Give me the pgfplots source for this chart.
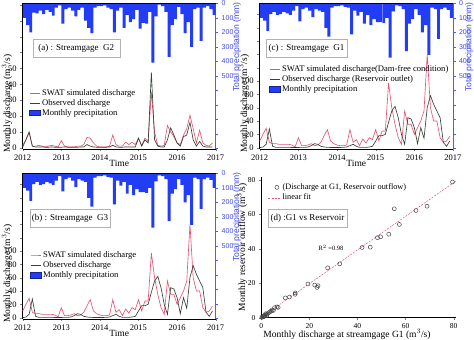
\documentclass[border=0pt]{standalone}
\usepackage{pgfplots}
\pgfplotsset{compat=1.18}
\usepackage{pgfplotstable}
\usepackage{fontspec}
\setmainfont{Liberation Serif}
\setsansfont{Liberation Sans}

\definecolor{swat}{RGB}{230,85,115}
\definecolor{obs}{RGB}{55,65,55}
\definecolor{barblue}{RGB}{35,60,245}
\definecolor{rblue}{RGB}{80,90,255}
\definecolor{lblue}{RGB}{60,70,240}

\pgfplotstableread{
i pa sa oa pc sc oc
0 100 1.5 0.5 100 10 0
1 150 5 5 120 20 1
2 200 9.5 10 190 29 5
3 65 1 1 75 8 28
4 70 1 0.5 60 6 2
5 50 1.5 0.5 80 6 0.5
6 75 1 0.5 75 5 0.5
7 45 0.5 0.3 60 5 0.5
8 60 1 0.3 70 5 0.5
9 85 1.5 0.5 80 5 0.5
10 30 1 0.3 50 4 0.3
11 15 0.5 0.3 20 1 0.3
12 140 4.5 0.3 125 15 0.3
13 40 1 0.5 40 3 0.5
14 30 0.5 0.3 30 3 0.5
15 50 0.5 0.3 50 4 1
16 90 0.5 0.3 95 6 3
17 45 1 0.3 40 3 6
18 30 1 0.5 50 4 5
19 120 2 0.5 60 8 2
20 170 6.5 2 170 18 1
21 205 6 1 230 27 0.5
22 30 3 0.5 30 10 0.3
23 20 1 0.3 20 6 0.3
24 20 0.5 0.3 20 4 0.3
25 15 0.5 0.3 15 3 0.3
26 30 0.5 0.3 25 3 0.5
27 40 1 0.5 30 4 1
28 200 8 1.5 215 27 3
29 50 2 0.5 50 8 5
30 30 1 0.3 85 12 2
31 170 1 0.3 60 3 0.5
32 80 3.5 0.5 140 13 0.5
33 130 2 0.5 80 7 0.5
34 110 3.5 0.5 150 15 1
35 45 2 0.5 110 12 2
36 175 6 6 130 27 10
37 135 1.5 1 130 10 18
38 140 6 5 135 25 18
39 60 4 3 100 25 20
40 410 35 47.5 375 97 38
41 90 10 5 55 60 55
42 10 1.5 1 15 35 62
43 20 1 0.5 20 15 45
44 60 1.5 0.5 40 5 20
45 370 14 5 330 55 5
46 150 10 12.5 140 35 45
47 110 7 8 110 35 43
48 25 3 3 40 20 30
49 75 2 1 80 30 6
50 205 8 7 200 40 30
51 130 12 8 150 55 14
52 300 20.5 16 355 140 60
53 40 12 5 30 60 78
54 30 3 1 40 40 65
55 260 11 4 245 40 55
56 30 3 1 40 15 45
57 20 1.5 0.5 30 8 8
58 40 1 0.5 45 10 2
59 80 3 0.5 100 17 10
}\ts

\pgfplotstableread{
x y
0.2 0.2
0.5 0.4
0.8 0.6
1.0 1.0
1.3 0.8
1.5 1.4
1.8 2.3
2.0 1.7
2.3 1.2
2.5 2.2
3.0 2.8
3.5 3.3
4.0 3.8
4.5 4.5
5.0 4.2
5.5 5.8
6.5 6.3
7.0 6.0
10.0 11.5
11.7 12.0
14.1 14.4
14.1 13.6
19.4 19.6
22.2 19.0
23.2 17.6
23.6 18.6
27.6 29.0
32.6 31.3
41.9 40.8
45.3 41.0
48.3 46.5
49.6 47.0
53.0 48.5
55.3 63.3
57.4 54.2
64.3 62.3
68.9 64.8
79.5 78.9
}\sc

\tikzset{boxlab/.style={draw=gray!60, fill=white, font=\fontsize{9}{10}\selectfont, minimum height=18pt, inner sep=2pt},
  rlab/.style={rotate=90, text=lblue, font=\sffamily\fontsize{8.6}{9}\selectfont, anchor=center}}

\pgfplotsset{
  shortline/.style={legend image code/.code={\draw[##1] (0pt,0pt) -- (12pt,0pt);}},
  base/.style={scale only axis, anchor=south west, height=145.7pt,
    xmin=0, xmax=60, tick align=outside, major tick length=2.5pt,
    tick label style={font=\fontsize{8.5}{9}\selectfont},
    label style={font=\fontsize{9.5}{10}\selectfont}},
  precip/.style={base, ymin=0, ymax=1005, y dir=reverse,
    axis y line*=right, axis x line=none,
    y axis line style={rblue, line width=0.6pt},
    ytick={0,100,...,1000}, yticklabels={0,100,200,300,400,500,,,,,},
    ytick style={rblue}, yticklabel style={text=lblue, font=\sffamily\fontsize{7}{8}\selectfont},
    ybar, bar width=0.92},
  disch/.style={base, axis x line*=box, axis y line*=left, xtick pos=bottom, clip=false,
    axis line style={line width=0.5pt},
    xtick={0,12,...,60}, xticklabels={2012,2013,2014,2015,2016,2017},
    xlabel={Time}, xlabel style={at={(axis description cs:0.5,-0.096)}, anchor=center},
    ylabel={Monthly discharge (m$^3$/s)},
    ylabel style={at={(axis description cs:-0.081,0.31)}, anchor=center},
    legend style={draw=none, fill=none, font=\fontsize{8.6}{9}\selectfont, legend cell align=left, row sep=-1.5pt, inner sep=0pt},
    legend image post style={xscale=0.6}}
}

\begin{document}
\begin{tikzpicture}[x=1pt,y=1pt]
\useasboundingbox (0,0) rectangle (474,340);

% ---------- Panel (a) ----------
\begin{axis}[precip, at={(22.7pt,191pt)}, width=193pt]
\addplot[fill=barblue, draw=none] table[x expr=\thisrow{i}+0.5, y=pa]{\ts};
\end{axis}
\begin{axis}[disch, at={(22.7pt,191pt)}, width=193pt, ymin=-0.8, ymax=91,
  ytick={0,10,...,90}, yticklabels={0,10,20,30,40,50,,,,},
  legend style={at={(0.033,0.426)}, anchor=north west}]
\addplot[swat, line width=0.65pt] table[x=i, y=sa]{\ts};
\addlegendentry{SWAT simulated discharge}
\addplot[obs, line width=0.65pt] table[x=i, y=oa]{\ts};
\addlegendentry{Observed discharge}
\addlegendimage{area legend, fill=barblue, draw=barblue!60!black}
\addlegendentry{Monthly precipitation}
\node[boxlab, minimum width=87pt] at (rel axis cs:0.278,0.693) {(a) : Streamgage\ \ G2};
\node[rlab] at (rel axis cs:1.11,0.70) {Total precipitation (mm)};
\end{axis}

% ---------- Panel (c) ----------
\begin{axis}[precip, at={(259.7pt,191pt)}, width=193.3pt]
\addplot[fill=barblue, draw=none] table[x expr=\thisrow{i}+0.5, y=pc]{\ts};
\end{axis}
\begin{axis}[disch, at={(259.7pt,191pt)}, width=193.3pt, ymin=-2, ymax=216.5,
  ytick={0,20,...,200}, yticklabels={0,20,40,60,80,100,,,,,},
  legend style={at={(0.048,0.59)}, anchor=north west}]
\addplot[swat, line width=0.65pt] table[x=i, y=sc]{\ts};
\addlegendentry{SWAT simulated discharge(Dam-free condition)}
\addplot[obs, line width=0.65pt] table[x=i, y=oc]{\ts};
\addlegendentry{Observed discharge (Reservoir outlet)}
\addlegendimage{area legend, fill=barblue, draw=barblue!60!black}
\addlegendentry{Monthly precipitation}
\node[boxlab, minimum width=81pt] at (rel axis cs:0.242,0.693) {(c) : Streamgage\ \ G1};
\node[rlab] at (rel axis cs:1.083,0.70) {Total precipitation (mm)};
\end{axis}

% ---------- Panel (b) ----------
\begin{axis}[precip, at={(22.7pt,21pt)}, width=193pt]
\addplot[fill=barblue, draw=none] table[x expr=\thisrow{i}+0.5, y=pc]{\ts};
\end{axis}
\begin{axis}[disch, at={(22.7pt,21pt)}, width=193pt, ymin=-2, ymax=216.5,
  ytick={0,20,...,200}, yticklabels={0,20,40,60,80,100,,,,,},
  legend style={at={(0.038,0.48)}, anchor=north west}]
\addplot[swat, line width=0.65pt] table[x=i, y=sc]{\ts};
\addlegendentry{SWAT simulated discharge}
\addplot[obs, line width=0.65pt] table[x=i, y=oc]{\ts};
\addlegendentry{Observed discharge}
\addlegendimage{area legend, fill=barblue, draw=barblue!60!black}
\addlegendentry{Monthly precipitation}
\node[boxlab, minimum width=80pt] at (rel axis cs:0.245,0.693) {(b) : Streamgage\ \ G3};
\node[rlab] at (rel axis cs:1.11,0.70) {Total precipitation (mm)};
\end{axis}

% ---------- Panel (d) ----------
\begin{axis}[scale only axis, anchor=south west, at={(261.3pt,22.3pt)},
  width=194.8pt, height=141.1pt, xmin=0, xmax=81, ymin=0, ymax=82,
  axis x line*=bottom, axis y line*=left, tick align=outside, major tick length=2.5pt,
  xtick={0,20,...,80}, ytick={0,20,...,80},
  /pgf/number format/assume math mode=true,
  tick label style={font=\fontsize{7.5}{8}\selectfont},
  xlabel={Monthly discharge at streamgage G1 (m$^3$/s)},
  ylabel={Monthly reservoir outflow (m$^3$/s)},
  label style={font=\fontsize{9.5}{10}\selectfont},
  xlabel style={at={(axis description cs:0.44,-0.115)}, anchor=center},
  ylabel style={at={(axis description cs:-0.099,0.5)}, anchor=center},
  legend style={draw=none, fill=none, font=\fontsize{8.3}{9}\selectfont, legend cell align=left, row sep=-1pt, inner sep=0pt, at={(0.034,0.965)}, anchor=north west}]
\addplot[only marks, mark=o, mark size=2pt, mark options={draw=gray!55!black, line width=0.5pt}] table[x=x, y=y]{\sc};
\addlegendentry{(Discharge at G1, Reservoir outflow)}
\addplot[swat, dashed, dash pattern=on 2pt off 1.2pt, line width=0.5pt, shortline] coordinates {(0,0.2) (81,79.5)};
\addlegendentry{linear fit}
\node[boxlab, minimum width=79pt] at (axis cs:19.2,58) {(d) :G1 vs Reservoir};
\node[font=\fontsize{6.5}{7}\selectfont] at (axis cs:29,40.5) {R$^2$ =0.98};
\end{axis}
\end{tikzpicture}
\end{document}
